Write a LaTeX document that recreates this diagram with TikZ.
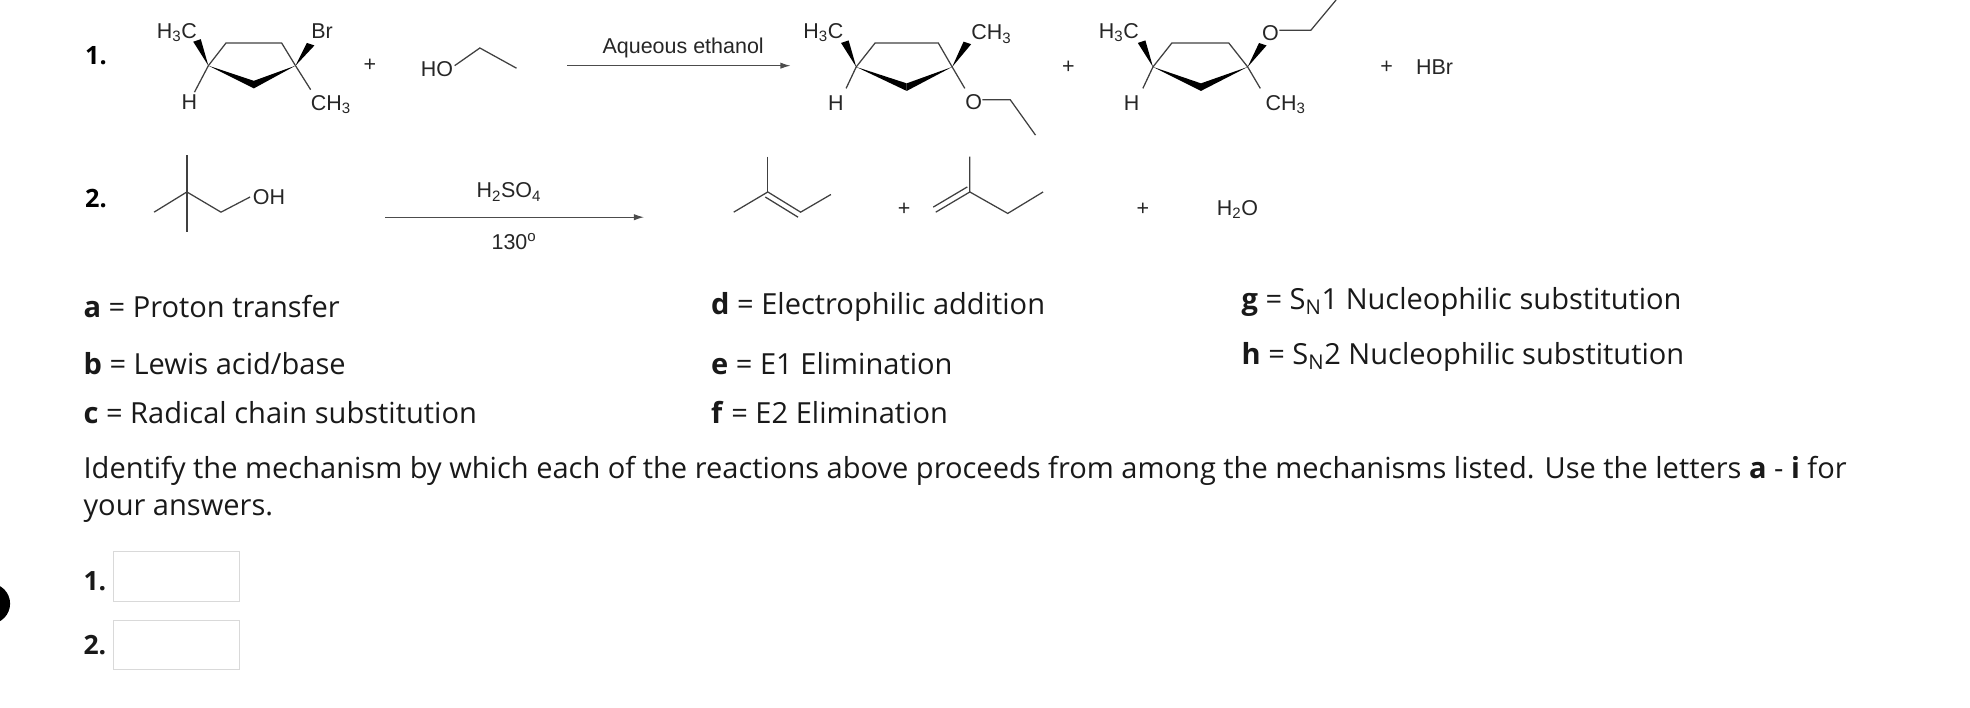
\documentclass[tikz,border=0pt]{standalone}
\usepackage{fontspec}
\setmainfont{Open Sans}
\newfontfamily\chemf{Liberation Sans}
\usetikzlibrary{arrows.meta}
\begin{document}
\begin{tikzpicture}[x=1pt,y=-1pt,
  chem/.style={font=\chemf\fontsize{17}{18}\selectfont,inner sep=0pt,text=black!85},
  leg/.style={font=\fontsize{23}{26}\selectfont,anchor=west,inner sep=0pt,text=black!90},
  num/.style={font=\bfseries\fontsize{20}{24}\selectfont,inner sep=0pt},
  bond/.style={draw=black!75,line width=1pt},
  wedge/.style={fill=black},
  ansbox/.style={draw=black!15,line width=0.8pt}]
\useasboundingbox (0,0) rectangle (1560,560.6);
\fill[black] (-8,478) circle (16);
% ---------- row 1
\node[num] (n1) at (76,44) {1.};
\draw[bond] (165,52)--(179,34)--(223,34)--(234,52);
\fill[wedge] (165,52)--(201,64)--(201,70)--cycle;
\fill[wedge] (234,52)--(201,64)--(201,70)--cycle;
\fill[wedge] (165,52)--(153,33)--(159,31)--cycle;
\fill[wedge] (234,52)--(243,34)--(249,36)--cycle;
\draw[bond] (165,52)--(154,73);
\draw[bond] (234,52)--(246,71);
\node[chem] (r1a) at (140,26) {H\textsubscript{3}C};
\node[chem] (r1b) at (255,25) {Br};
\node[chem] (r1c) at (150,81) {H};
\node[chem] (r1d) at (262,83) {CH\textsubscript{3}};
\node[chem] (p1) at (293,52) {+};
\node[chem] (ho) at (346,55) {HO};
\draw[bond] (360,52)--(380,38)--(409,54);
\draw[draw=black!70,line width=0.9pt,-{Latex[length=8pt,width=5pt]}] (449,52)--(626,52);
\node[chem] (aq) at (541,38) {Aqueous ethanol};
% product 1
\draw[bond] (678,53)--(693,34)--(743,34)--(754,53);
\fill[wedge] (678,53)--(718,66)--(718,72)--cycle;
\fill[wedge] (754,53)--(718,66)--(718,72)--cycle;
\fill[wedge] (678,53)--(666,34)--(672,32)--cycle;
\fill[wedge] (754,53)--(763,33)--(769,35)--cycle;
\draw[bond] (678,53)--(670,70);
\draw[bond] (754,53)--(764,70);
\node[chem] (q1a) at (652,26) {H\textsubscript{3}C};
\node[chem] (q1b) at (785,27) {CH\textsubscript{3}};
\node[chem] (q1c) at (662,82) {H};
\node[chem] (q1o) at (771,81) {O};
\draw[bond] (778,79)--(800,79)--(820,107);
\node[chem] (p2) at (846,53) {+};
% product 2
\draw[bond] (913,53)--(928,34)--(973,34)--(988,53);
\fill[wedge] (913,53)--(951,66)--(951,72)--cycle;
\fill[wedge] (988,53)--(951,66)--(951,72)--cycle;
\fill[wedge] (913,53)--(901,34)--(907,32)--cycle;
\fill[wedge] (988,53)--(997,34)--(1003,36)--cycle;
\draw[bond] (913,53)--(905,70);
\draw[bond] (988,53)--(998,70);
\node[chem] (q2a) at (886,26) {H\textsubscript{3}C};
\node[chem] (q2o) at (1006,26) {O};
\draw[bond] (1013,24)--(1038,24)--(1058,0);
\node[chem] (q2c) at (896,82) {H};
\node[chem] (q2d) at (1018,83) {CH\textsubscript{3}};
\node[chem] (p3) at (1098,53) {+};
\node[chem] (hbr) at (1136,53) {HBr};
% ---------- row 2
\node[num] (n2) at (76,157) {2.};
\draw[bond] (148,123)--(148,184);
\draw[bond] (122,168)--(148,152)--(175,168)--(198,156);
\node[chem] (oh) at (213,156) {OH};
\draw[draw=black!70,line width=0.9pt,-{Latex[length=8pt,width=5pt]}] (305,172)--(510,172);
\node[chem] (h2so4) at (403,152) {H\textsubscript{2}SO\textsubscript{4}};
\node[chem] (t130) at (407,191) {130\textsuperscript{o}};
\draw[bond] (608,124)--(608,152);
\draw[bond] (581,168)--(608,152);
\draw[bond] (608,152)--(634,168)--(658,154);
\draw[bond] (606,156)--(632,172);
\node[chem] (p4) at (716,166) {+};
\draw[bond] (768,124)--(768,152)--(741,168);
\draw[bond] (766,148)--(739,164);
\draw[bond] (768,152)--(798,169)--(826,152);
\node[chem] (p5) at (905,166) {+};
\node[chem] (h2o) at (980,166) {H\textsubscript{2}O};
% ---------- legend
\node[leg] (la) at (66,243) {\textbf{a} = Proton transfer};
\node[leg] (lb) at (66,288) {\textbf{b} = Lewis acid/base};
\node[leg] (lc) at (66,327) {\textbf{c} = Radical chain substitution};
\node[leg] (ld) at (563,243) {\textbf{d} = Electrophilic addition};
\node[leg] (le) at (563,288) {\textbf{e} = E1 Elimination};
\node[leg] (lf) at (563,327) {\textbf{f} = E2 Elimination};
\node[leg] (lg) at (983,239) {\textbf{g} = S\textsubscript{N}1 Nucleophilic substitution};
\node[leg] (lh) at (983,283) {\textbf{h} = S\textsubscript{N}2 Nucleophilic substitution};
\node[leg] (q1) at (66,373) {Identify the mechanism by which each of the reactions above proceeds from among the mechanisms listed. Use the letters \textbf{a} - \textbf{i} for};
\node[leg] (q2) at (66,405) {your answers.};
\node[leg,font=\fontsize{21}{24}\selectfont\bfseries] (an1) at (66,460) {1.};
\draw[ansbox] (90,437) rectangle (190,476);
\node[leg,font=\fontsize{21}{24}\selectfont\bfseries] (an2) at (66,511) {2.};
\draw[ansbox] (90,491) rectangle (190,530);
\end{tikzpicture}
\end{document}
